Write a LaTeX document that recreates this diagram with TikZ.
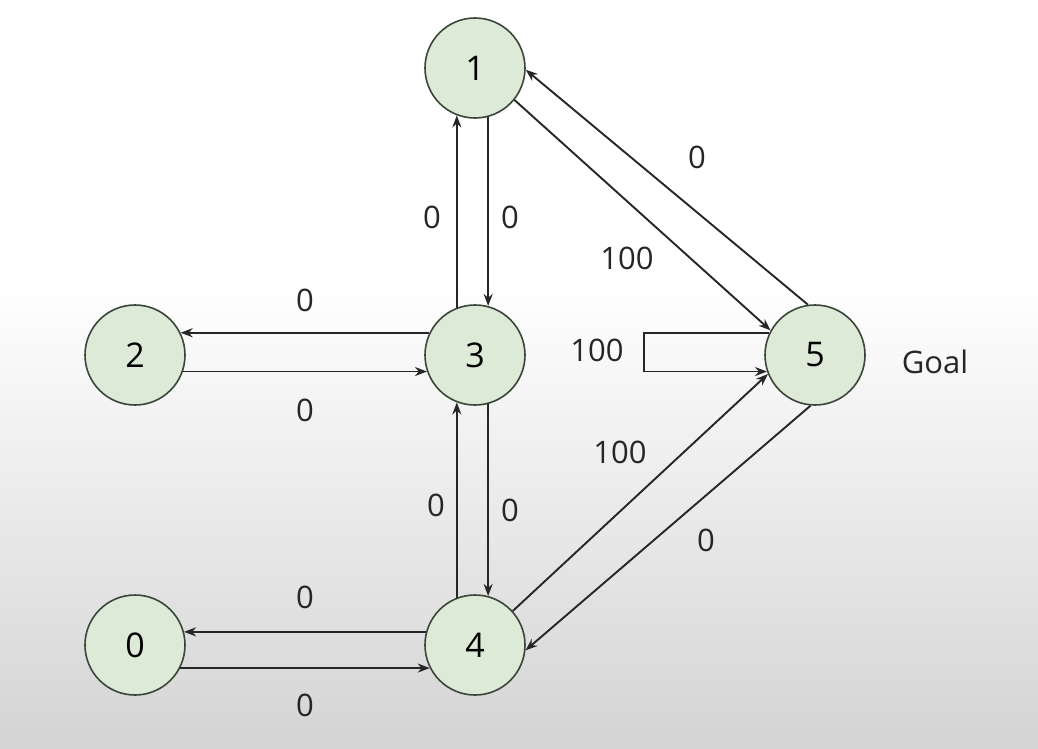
\documentclass[tikz,border=0pt]{standalone}
\usepackage{fontspec}
\setmainfont{Open Sans}
\usetikzlibrary{arrows.meta}
\definecolor{nodefill}{HTML}{DCEAD7}
\definecolor{nodeline}{HTML}{3A463A}
\begin{document}
\begin{tikzpicture}[x=1pt,y=-1pt,
  st/.style={circle,draw=nodeline,line width=1.6pt,fill=nodefill,minimum size=100pt,inner sep=0pt,font=\fontsize{34}{34}\selectfont},
  ed/.style={-{Stealth[length=12pt,width=9pt]},line width=1.9pt,black!85},
  lb/.style={font=\fontsize{31}{31}\selectfont,text=black!85}]
\useasboundingbox (0,0) rectangle (1038,748);
\fill[white] (0,0) rectangle (1038,285);
\shade[top color=white,bottom color=black!17] (0,284) rectangle (1038,748);
\node[st] (1) at (475,68) {1};
\node[st] (2) at (135,355) {2};
\node[st] (3) at (475,355) {3};
\node[st] (5) at (815,355) {5};
\node[st] (0) at (135,645) {0};
\node[st] (4) at (475,645) {4};
\draw[ed] (3.111) -- (1.-111);
\draw[ed] (1.-75) -- (3.75);
\draw[ed] (3.154) -- (2.26);
\draw[ed] (2.-19) -- (3.-161);
\draw[ed] (4.111) -- (3.-111);
\draw[ed] (3.-75) -- (4.75);
\draw[ed] (4.165) -- (0.15);
\draw[ed] (0.-27) -- (4.-153);
\draw[ed] (5.98) -- (1.-2);
\draw[ed] (1.-39) -- (5.151);
\draw[ed] (4.42) -- (5.-158);
\draw[ed] (5.-95) -- (4.-6);
\draw[ed] (5.154) -- ++(-125,0) |- (5.-161);
\node[lb] at (697,157) {0};
\node[lb] at (627,258) {100};
\node[lb] at (432,217) {0};
\node[lb] at (510,217) {0};
\node[lb] at (305,300) {0};
\node[lb] at (305,410) {0};
\node[lb] at (597,350) {100};
\node[lb] at (620,452) {100};
\node[lb] at (706,540) {0};
\node[lb] at (436,505) {0};
\node[lb] at (510,510) {0};
\node[lb] at (305,597) {0};
\node[lb] at (305,705) {0};
\node[lb] at (935,362) {Goal};
\end{tikzpicture}
\end{document}
